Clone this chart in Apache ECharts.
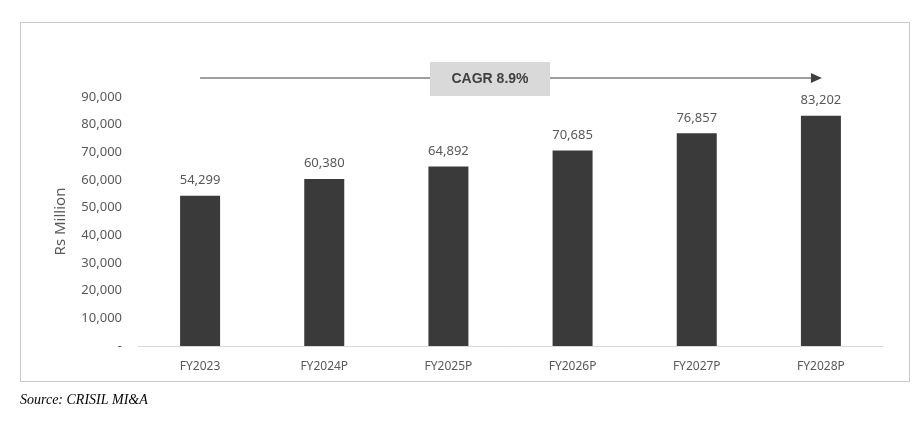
<!DOCTYPE html>
<html><head><meta charset="utf-8">
<script src="https://cdn.jsdelivr.net/npm/echarts@6/dist/echarts.min.js"></script>
<style>html,body{margin:0;padding:0;background:#fff}#c{width:918px;height:421px}</style>
</head><body><div id="c"></div>
<script>
var categories = ['FY2023','FY2024P','FY2025P','FY2026P','FY2027P','FY2028P'];
var values = [54299, 60380, 64892, 70685, 76857, 83202];
var yTicks = [0,10000,20000,30000,40000,50000,60000,70000,80000,90000];
var cagrText = 'CAGR 8.9%';
var yName = 'Rs Million';
var sourceText = 'Source: CRISIL MI&A';

var chart = echarts.init(document.getElementById('c'), null, {renderer:'canvas'});
function fmt(v){ return v === 0 ? '-' : v.toLocaleString('en-US'); }
chart.setOption({
  animation:false,
  backgroundColor:'#fff',
  grid:{left:138, right:35, top:97, bottom:75},
  xAxis:{type:'category', data:categories,
    axisLine:{lineStyle:{color:'#d9d9d9', width:1}}, axisTick:{show:false},
    axisLabel:{color:'#595959', fontSize:12, fontFamily:'Noto Sans', margin:15}},
  yAxis:{type:'value', min:0, max:90000, interval:10000,
    name:yName, nameLocation:'middle', nameGap:70, nameRotate:90,
    nameTextStyle:{color:'#595959', fontSize:15, fontFamily:'Noto Sans'},
    splitLine:{show:false}, axisLine:{show:false}, axisTick:{show:false},
    axisLabel:{color:'#595959', fontSize:13, fontFamily:'Noto Sans', margin:16,
      formatter:function(v){return fmt(v);}}},
  series:[{type:'bar', data:values, barWidth:40,
    itemStyle:{color:'#3a3a3a'},
    label:{show:true, position:'top', distance:9, color:'#595959', fontSize:13, fontFamily:'Noto Sans',
      formatter:function(p){return fmt(p.value);}}}]
});

function drawGraphics(){
  var x0 = chart.convertToPixel({xAxisIndex:0}, categories[0]);
  var x1 = chart.convertToPixel({xAxisIndex:0}, categories[categories.length-1]);
  var ay = 78;
  var bx = 430, bw = 120, bh = 34;
  chart.setOption({graphic:[
    {type:'rect', shape:{x:20.5, y:22.5, width:889, height:359}, style:{fill:'none', stroke:'#c8c8c8', lineWidth:1}, silent:true},
    {type:'line', shape:{x1:x0, y1:ay, x2:x1-8, y2:ay}, style:{stroke:'#404040', lineWidth:1.2}},
    {type:'polygon', shape:{points:[[x1-10,ay-5],[x1+1,ay],[x1-10,ay+5]]}, style:{fill:'#404040'}},
    {type:'rect', shape:{x:bx, y:ay-bh/2+1, width:bw, height:bh}, style:{fill:'#d9d9d9'}},
    {type:'text', x:bx+bw/2, y:ay+1, style:{text:cagrText, fill:'#404040', font:'bold 14px "Liberation Sans", Arial', align:'center', verticalAlign:'middle'}},
    {type:'text', x:20, y:400, style:{text:sourceText, fill:'#000', font:'italic 14px "Liberation Serif", "Times New Roman"', align:'left', verticalAlign:'middle'}}
  ]});
}
drawGraphics();
</script></body></html>
